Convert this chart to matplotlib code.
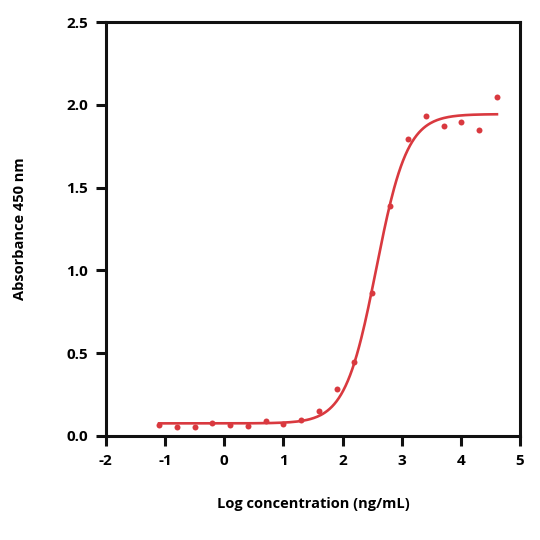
import numpy as np
import matplotlib
matplotlib.use("Agg")
import matplotlib.pyplot as plt

plt.rcParams['font.family'] = ['Open Sans', 'DejaVu Sans']
plt.rcParams['font.weight'] = 'bold'

# measured points (log concentration vs absorbance)
log_conc = [-1.10, -0.80, -0.50, -0.20, 0.10, 0.40, 0.70, 1.00, 1.30, 1.60,
            1.90, 2.20, 2.50, 2.80, 3.10, 3.41, 3.71, 4.01, 4.31, 4.61]
absorbance = [0.065, 0.054, 0.056, 0.079, 0.065, 0.059, 0.089, 0.070, 0.095, 0.151,
              0.282, 0.447, 0.865, 1.391, 1.795, 1.932, 1.870, 1.894, 1.846, 2.049]

# 4PL fit parameters
fit_bottom = 0.075
fit_top = 1.944
fit_log_ec50 = 2.57
fit_hill = 1.66

x_ticks = [-2, -1, 0, 1, 2, 3, 4, 5]
x_tick_labels = ['-2', '-1', '0', '1', '2', '3', '4', '5']
y_ticks = [0, 0.5, 1.0, 1.5, 2.0, 2.5]
y_tick_labels = ['0.0', '0.5', '1.0', '1.5', '2.0', '2.5']

red = '#d9393f'

fig = plt.figure(figsize=(5.4, 5.4), dpi=100)
ax = fig.add_axes([0.196, 0.193, 0.767, 0.766])

xs = np.linspace(min(log_conc), max(log_conc), 300)
ys = fit_bottom + (fit_top - fit_bottom) / (1 + 10 ** ((fit_log_ec50 - xs) * fit_hill))
ax.plot(xs, ys, color=red, lw=1.9, zorder=2)
ax.plot(log_conc, absorbance, 'o', color=red, ms=4.3, mec='none', zorder=3)

ax.set_xlim(-2, 5)
ax.set_ylim(0, 2.5)
ax.set_xticks(x_ticks)
ax.set_xticklabels(x_tick_labels)
ax.set_yticks(y_ticks)
ax.set_yticklabels(y_tick_labels)

for s in ax.spines.values():
    s.set_linewidth(2.2)
    s.set_color('#111111')
ax.tick_params(axis='both', direction='out', length=7, width=2.2, color='#111111',
               labelsize=11, pad=6)
for lab in ax.get_xticklabels() + ax.get_yticklabels():
    lab.set_fontweight('bold')

ax.set_xlabel('Log concentration (ng/mL)', fontsize=10.5, fontweight='bold', labelpad=21)
ax.set_ylabel('Absorbance 450 nm', fontsize=10.5, fontweight='bold', labelpad=28)

fig.savefig('out.png', dpi=100)
